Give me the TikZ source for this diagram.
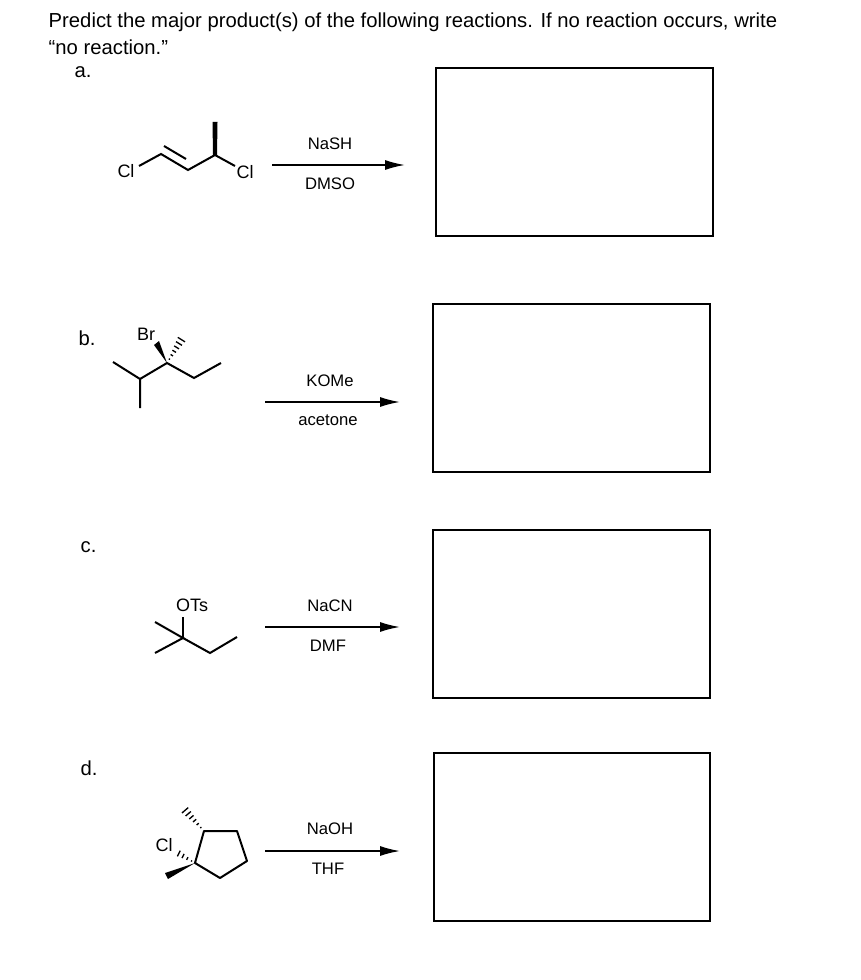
\documentclass[tikz,border=0pt]{standalone}
\usepackage{fontspec}
\setmainfont{Liberation Sans}
\usetikzlibrary{arrows.meta,calc}
\begin{document}
\begin{tikzpicture}[x=0.75pt,y=-0.75pt,
  bond/.style={line width=1.5pt},
  box/.style={draw,line width=1.5pt},
  rxn/.style={line width=1.2pt,-{Latex[length=15pt,width=7.5pt]}},
  reag/.style={font=\fontsize{12.5}{14}\selectfont},
  atom/.style={font=\fontsize{13.5}{15}\selectfont,inner sep=0.5pt},
  lab/.style={font=\fontsize{15.2}{17}\selectfont,anchor=west},
  hash/.style={line width=1.5pt,dash pattern=on 1.2pt off 1.6pt}]
\useasboundingbox (0,0) rectangle (860,980);
\fill[white] (0,0) rectangle (860,980);
\node[lab] (h1) at (44,22) {Predict the major product(s) of the following reactions. If no reaction occurs, write};
\node[lab] (h2) at (44,47) {“no reaction.”};
\node[lab] (la) at (70,72) {a.};
\node[lab] (lb) at (74,338) {b.};
\node[lab] (lc) at (76,547) {c.};
\node[lab] (ld) at (76,768) {d.};
% boxes
\node[box,minimum width=208pt,minimum height=126pt,anchor=north west] (ba) at (435,67) {};
\node[box,minimum width=208pt,minimum height=126pt,anchor=north west] (bb) at (432,303) {};
\node[box,minimum width=208pt,minimum height=126pt,anchor=north west] (bc) at (432,529) {};
\node[box,minimum width=207pt,minimum height=126pt,anchor=north west] (bd) at (433,752) {};
% arrows
\coordinate (a1) at (272,165); \coordinate (a2) at (405,165);
\draw[rxn] (a1) -- (a2);
\node[reag] (ra1) at (330,144) {NaSH}; \node[reag] (ra2) at (330,184) {DMSO};
\coordinate (b1) at (265,402); \coordinate (b2) at (400,402);
\draw[rxn] (b1) -- (b2);
\node[reag] (rb1) at (330,381) {KOMe}; \node[reag] (rb2) at (328,420) {acetone};
\coordinate (c1) at (265,627); \coordinate (c2) at (400,627);
\draw[rxn] (c1) -- (c2);
\node[reag] (rc1) at (330,606) {NaCN}; \node[reag] (rc2) at (328,646) {DMF};
\coordinate (d1) at (265,851); \coordinate (d2) at (400,851);
\draw[rxn] (d1) -- (d2);
\node[reag] (rd1) at (330,829) {NaOH}; \node[reag] (rd2) at (328,869) {THF};
% molecule a
\node[atom] (cla) at (126,171) {Cl};
\node[atom] (clb) at (245,172) {Cl};
\draw[bond] (139,166) -- (161,154) -- (188,170) -- (215,155) -- (235,166);
\draw[bond] (164,146) -- (186,159);
\fill (213,155) -- (217,155) -- (217.5,122) -- (212.5,122) -- cycle;
% molecule b
\node[atom] (br) at (146,334) {Br};
\draw[bond] (113,362) -- (140,379) -- (140,408);
\draw[bond] (140,379) -- (167,363) -- (194,378) -- (221,363);
\fill (167,363) -- (159,341) -- (154,345) -- cycle;
\foreach \t in {0.15,0.3,0.45,0.6,0.75,0.9}
  \draw[line width=1pt] ($(167,363)!\t!(183,337)+(-4*\t,-2.5*\t)$) -- ($(167,363)!\t!(183,337)+(4*\t,2.5*\t)$);
% molecule c
\node[atom] (ots) at (192,605) {OTs};
\draw[bond] (183,617) -- (183,638);
\draw[bond] (155,622) -- (183,638) -- (155,653);
\draw[bond] (183,638) -- (210,653) -- (237,637);
% molecule d
\node[atom] (cld) at (164,845) {Cl};
\draw[bond,line join=round] (204,831) -- (237,831) -- (247,861) -- (220,878) -- (195,863) -- cycle;
\foreach \t in {0.15,0.3,0.45,0.6,0.75,0.9}
  \draw[line width=1pt] ($(204,831)!\t!(183,808)+(-3.5*\t,3*\t)$) -- ($(204,831)!\t!(183,808)+(3.5*\t,-3*\t)$);
\foreach \t in {0.2,0.45,0.7,0.95}
  \draw[line width=1pt] ($(195,863)!\t!(178,853)+(-1.5*\t,3*\t)$) -- ($(195,863)!\t!(178,853)+(1.5*\t,-3*\t)$);
\fill (195,863) -- (168,879) -- (165,873) -- cycle;
\end{tikzpicture}
\end{document}
